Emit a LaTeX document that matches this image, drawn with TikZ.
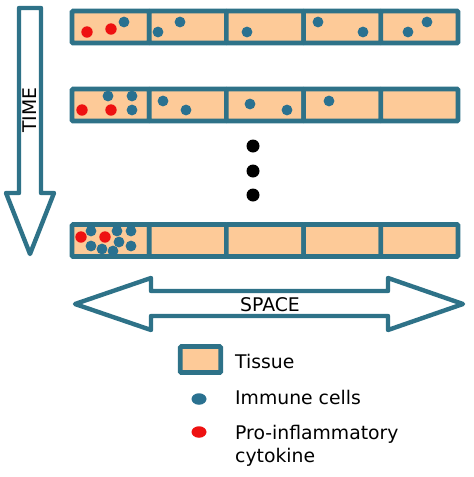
\documentclass[tikz,border=0pt]{standalone}
\usepackage{fontspec}
\usetikzlibrary{shapes.geometric}
\setmainfont{DejaVu Sans}
\definecolor{teal1}{HTML}{2E7288}
\definecolor{peach}{HTML}{FDCA98}
\definecolor{cellblue}{HTML}{2A7190}
\definecolor{cytored}{HTML}{EE1111}
\tikzset{
  tissue/.style={draw=teal1, fill=peach, line width=4.6pt, minimum width=77.2pt, minimum height=32pt, inner sep=0pt, outer sep=0pt, rounded corners=1pt},
  immune/.style={circle, fill=cellblue, inner sep=0pt, minimum size=10.8pt},
  cyto/.style={circle, fill=cytored, inner sep=0pt, minimum size=11.4pt},
  legdot/.style={ellipse, inner sep=0pt, minimum width=15pt, minimum height=11.5pt},
  bigdot/.style={circle, fill=black, inner sep=0pt, minimum size=13pt},
  bigarrow/.style={draw=teal1, fill=white, line width=4.4pt, line join=round},
  lbl/.style={font=\fontsize{18.8}{23}\selectfont, inner sep=0pt}
}
\begin{document}
\begin{tikzpicture}[x=1pt,y=-1pt]
\useasboundingbox (0,0) rectangle (474,477);
% tissue strips
\foreach \r/\yy in {1/27, 2/105, 3/240.5}{
  \foreach \c in {1,...,5}{
    \node[tissue] (r\r c\c) at ({72+77.2*(\c-0.5)},\yy) {};
  }
}
% row 1
\node[cyto] (a1) at (87,32) {};
\node[cyto] (a2) at (111,29) {};
\node[immune] (b1) at (124,22) {};
\node[immune] (b2) at (158,32) {};
\node[immune] (b3) at (180,22) {};
\node[immune] (b4) at (247,32) {};
\node[immune] (b5) at (318,22) {};
\node[immune] (b6) at (363,32) {};
\node[immune] (b7) at (408,32) {};
\node[immune] (b8) at (427,22) {};
% row 2
\node[cyto] (c1) at (82,110) {};
\node[cyto] (c2) at (111,110) {};
\node[immune] (d1) at (108,96) {};
\node[immune] (d2) at (132,96) {};
\node[immune] (d3) at (132,110) {};
\node[immune] (d4) at (163,101) {};
\node[immune] (d5) at (186,110) {};
\node[immune] (d6) at (250,104) {};
\node[immune] (d7) at (287,110) {};
\node[immune] (d8) at (329,101) {};
% row 3
\node[cyto] (e1) at (81,237) {};
\node[cyto] (e2) at (105,237) {};
\node[immune] (f1) at (91,231) {};
\node[immune] (f2) at (117,231) {};
\node[immune] (f3) at (131,231) {};
\node[immune] (f4) at (119,242) {};
\node[immune] (f5) at (91,246) {};
\node[immune] (f6) at (102,249) {};
\node[immune] (f7) at (113,251) {};
\node[immune] (f8) at (131,246) {};
% ellipsis dots
\node[bigdot] (g1) at (253,146) {};
\node[bigdot] (g2) at (253,171) {};
\node[bigdot] (g3) at (253,195) {};
% TIME arrow
\draw[bigarrow] (19,8) -- (41,8) -- (41,193) -- (54,193) -- (30,254) -- (6,193) -- (19,193) -- cycle;
\node[lbl, rotate=90] (time) at (30,110) {TIME};
% SPACE arrow
\draw[bigarrow] (75,304) -- (151,278) -- (151,291) -- (388,291) -- (388,278) -- (463,304) -- (388,330) -- (388,316) -- (151,316) -- (151,330) -- cycle;
\node[lbl] (space) at (270,305) {SPACE};
% legend
\node[tissue, minimum width=40.5pt, minimum height=26pt] (legtissue) at (200.5,359.5) {};
\node[lbl, anchor=west] (ltissue) at (235,361) {Tissue};
\node[legdot, fill=cellblue] (legimmune) at (199,399) {};
\node[lbl, anchor=west] (limmune) at (235,397) {Immune cells};
\node[legdot, fill=cytored] (legcyto) at (199,432) {};
\node[lbl, anchor=west, align=left] (lcyto) at (235,445.5) {Pro-inflammatory\\cytokine};
\end{tikzpicture}
\end{document}
